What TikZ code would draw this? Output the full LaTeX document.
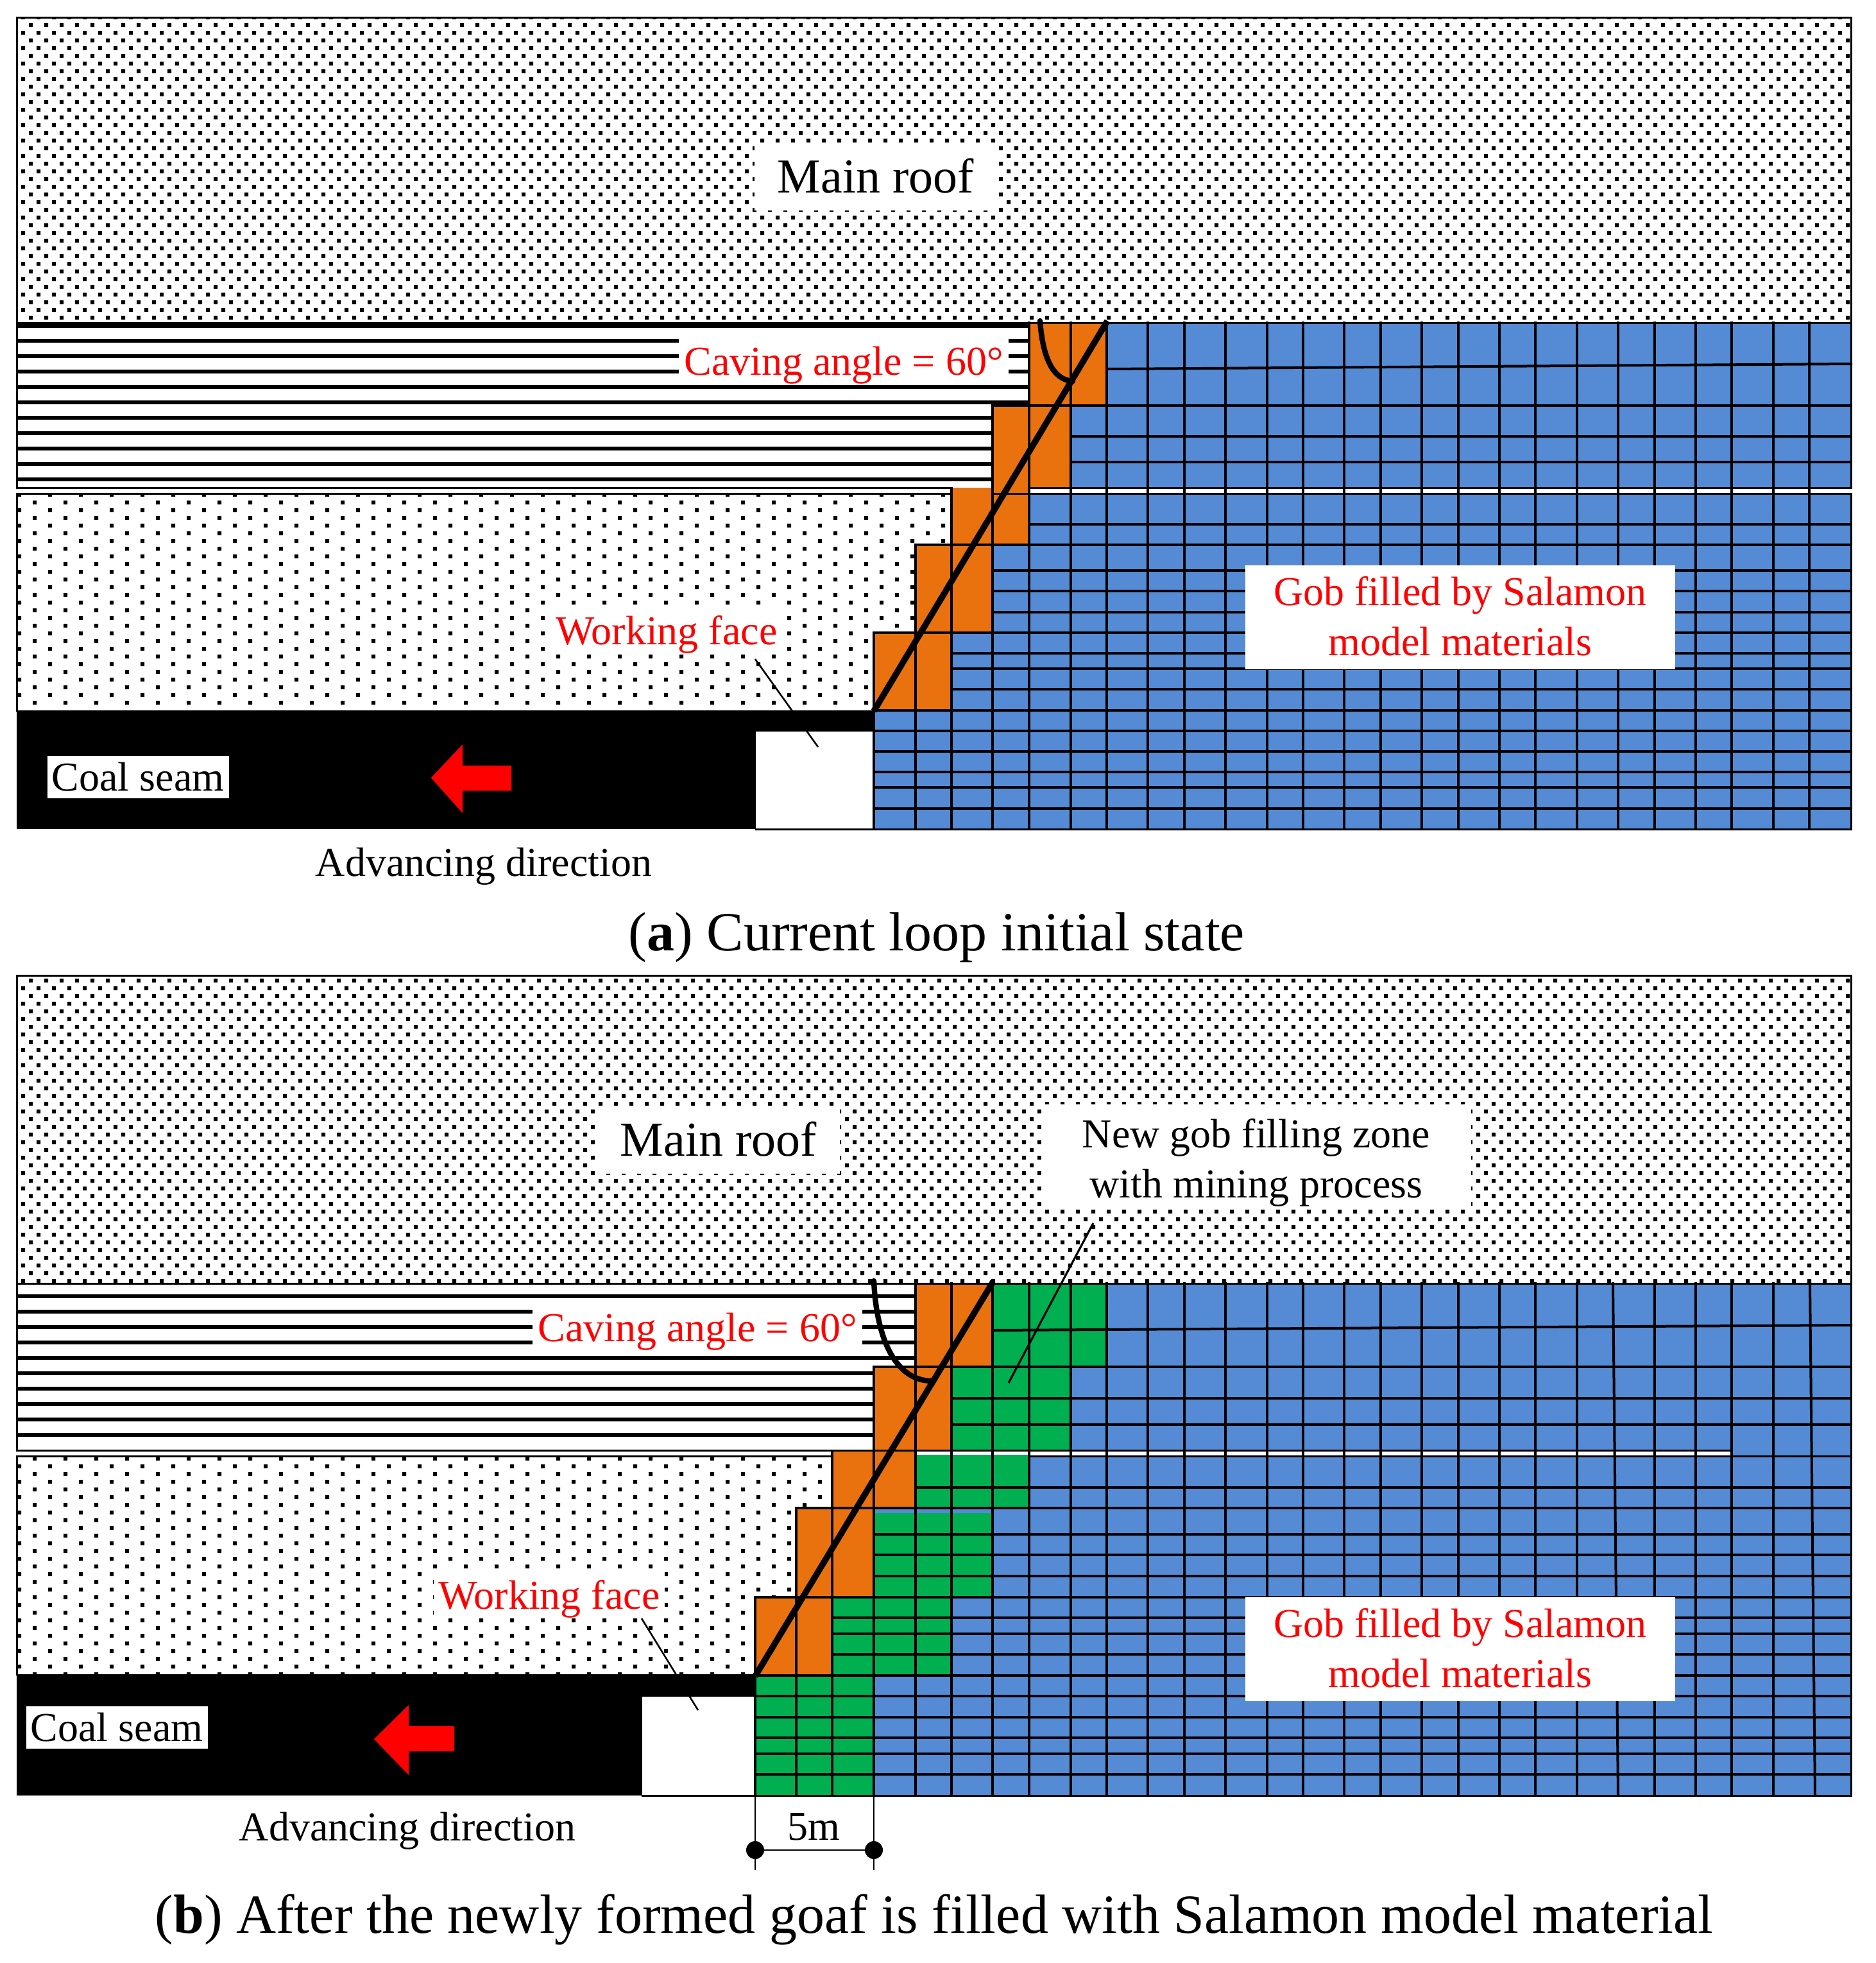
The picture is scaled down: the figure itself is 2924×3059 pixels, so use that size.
\documentclass[tikz,border=0pt]{standalone}
\usepackage{fontspec}
\setmainfont{Liberation Serif}
\definecolor{gobblue}{RGB}{85,138,212}
\definecolor{caveorange}{RGB}{234,114,14}
\definecolor{newgreen}{RGB}{0,175,80}
\newcommand{\dotfield}[5]{\fill \foreach \k in {0,...,#5}{\foreach \j in {0,...,#4}{({#1+#3*\j+#3/2*mod(\k,2)-3},{#2-12*\k-3}) rectangle +(6,6)}};}

\begin{document}
\begin{tikzpicture}[
    x=0.5pt, y=-0.5pt,
    gridline/.style={line width=2pt, line cap=rect},
    hatchline/.style={line width=3pt},
    frameline/.style={line width=1.5pt, line cap=rect},
    anglearc/.style={line width=4.2pt, line cap=round},
    caveline/.style={line width=4.8pt},
    leader/.style={line width=1.3pt},
    lab/.style={font=\fontsize{32}{39}\selectfont, inner sep=0pt, anchor=base},
    whitelab/.style={lab, fill=white, text height=29pt, text depth=7.5pt, inner xsep=4pt},
    bigbox/.style={fill=white, align=center, inner sep=0pt, font=\fontsize{32}{39}\selectfont, minimum width=335pt, minimum height=81pt},
    roofbox/.style={fill=white, inner ysep=0pt, inner xsep=18pt, anchor=base, font=\fontsize{38}{45}\selectfont, text height=38pt, text depth=14pt},
    coalbox/.style={fill=white, inner sep=0pt, font=\fontsize{32}{39}\selectfont, minimum width=141.5pt, minimum height=33pt},
    captext/.style={font=\fontsize{43}{50}\selectfont, inner sep=0pt, anchor=base}
]
    \useasboundingbox (0,0) rectangle (2924,3059);

    % (a)
    \begin{scope}
        \clip (26,27) rectangle (2885,503);
        \dotfield{24}{495}{24}{119}{39}
    \end{scope}
    \begin{scope}
        \clip (26,768) -- (1483,768) -- (1483,849) -- (1427,849) -- (1427,986) -- (1362,986) -- (1362,1107) -- (26,1107) -- cycle;
        \dotfield{6}{1095}{48}{30}{27}
    \end{scope}
    \draw[hatchline, line width=4.5pt] (26,506) -- (1604,506);
    \foreach \y in {531,555,579,603,627} \draw[hatchline] (26,\y) -- (1604,\y);
    \foreach \y in {651,675,699,723,747} \draw[hatchline] (26,\y) -- (1547,\y);
    \fill (26,1107) rectangle (1362,1292);
    \fill[white] (1178,1140) rectangle (1362,1292);
    \foreach \xl/\yt/\yb in {1725/503/632, 1669/632/760, 1604/769/849, 1547/849/986, 1483/986/1107, 1362/1107/1292}
        \fill[gobblue] (\xl,\yt) rectangle (2885,\yb);
    \foreach \xl/\xr/\yt/\yb in {1604/1725/503/632, 1547/1669/632/760, 1483/1604/760/849, 1427/1547/849/986, 1362/1483/986/1107}
        \fill[caveorange] (\xl,\yt) rectangle (\xr,\yb);
    \foreach \x/\yt in {1362/986, 1427/849, 1483/761, 1547/632, 1604/503, 1669/503, 1725/503, 1789/503, 1846/503, 1910/503, 1975/503, 2031/503, 2095/503, 2152/503, 2216/503, 2273/503, 2337/503, 2393/503, 2458/503, 2522/503, 2579/503, 2643/503, 2699/503, 2764/503, 2820/503}
        \draw[gridline] (\x,\yt) -- (\x,1292);
    \foreach \y/\xl in {632/1547, 680/1669, 720/1669, 817/1604, 849/1427, 889/1547, 921/1547, 954/1547, 986/1362, 1018/1483, 1042/1483, 1074/1483, 1107/1362, 1139/1362, 1171/1362, 1203/1362, 1227/1362, 1260/1362}
        \draw[gridline] (\xl,\y) -- (2885,\y);
    \draw[gridline] (1725,575) -- (2885,567);
    \draw[frameline] (1604,760) -- (2885,760);
    \draw[frameline] (1547,769) -- (2885,769);
    \draw[frameline] (26,760) -- (1483,760);
    \draw[frameline] (26,769) -- (1483,769);
    \draw[frameline] (1178,1292) -- (2885,1292);
    \draw[frameline] (26,27) rectangle (2885,503);
    \draw[frameline] (26,503) -- (26,760);
    \draw[frameline] (26,769) -- (26,1107);
    \draw[frameline] (2885,503) -- (2885,760);
    \draw[frameline] (2885,769) -- (2885,1292);

    \node[roofbox] (roofa) at (1365,300) {Main roof};
    \node[whitelab, text=red] (cavinga) at (1315,584) {Caving angle = 60°};
    \node[whitelab, text=red] (facea) at (1039,1004) {Working face};
    \node[bigbox, text=red] (goba) at (2276,962) {Gob filled by Salamon\\model materials\rule[-2pt]{0pt}{2pt}};
    \node[coalbox] (coala) at (215,1211) {Coal seam};
    \node[lab] (advancea) at (754,1365) {Advancing direction};
    \node[captext] (capa) at (1460,1481) {(\textbf{a}) Current loop initial state};
    \fill[red] (672,1212) -- (721,1160) -- (721,1193) -- (797,1193) -- (797,1232) -- (721,1232) -- (721,1267) -- cycle;
    \coordinate (leadtopa) at (1177,1027);
    \coordinate (leadenda) at (1275,1164);
    \draw[leader] (leadtopa) -- (leadenda);
    \draw[caveline] (1362,1108) -- (1726,500);
    \draw[anglearc] (1621,500) .. controls (1625,555) and (1640,592) .. (1672,594);

    % (b)
    \begin{scope}
        \clip (26,1520) rectangle (2885,2000);
        \dotfield{12}{1996}{24}{120}{39}
    \end{scope}
    \begin{scope}
        \clip (26,2269) -- (1297,2269) -- (1297,2350) -- (1241,2350) -- (1241,2489) -- (1177,2489) -- (1177,2609) -- (26,2609) -- cycle;
        \dotfield{6}{2609}{48}{30}{28}
    \end{scope}
    \foreach \y in {2020,2044,2068,2092,2116} \draw[hatchline] (26,\y) -- (1427,\y);
    \foreach \y in {2140,2164,2188,2212,2236} \draw[hatchline] (26,\y) -- (1362,\y);
    \fill (26,2609) rectangle (1177,2798);
    \fill[white] (1001,2644) rectangle (1177,2798);
    \foreach \xl/\yt/\yb in {1725/2000/2130, 1669/2130/2261, 1604/2269/2350, 1547/2350/2489, 1483/2489/2611, 1362/2611/2798}
        \fill[gobblue] (\xl,\yt) rectangle (2885,\yb);
    \fill[gobblue] (2698,2260) rectangle (2885,2269);
    \fill[gobblue] (1362,2350) rectangle (1547,2358);
    \foreach \xl/\xr/\yt/\yb in {1547/1725/2000/2130, 1483/1669/2130/2261, 1427/1604/2267/2350, 1362/1547/2358/2489, 1297/1483/2489/2611, 1177/1362/2611/2798}
        \fill[newgreen] (\xl,\yt) rectangle (\xr,\yb);
    \foreach \xl/\xr/\yt/\yb in {1427/1547/2000/2130, 1362/1483/2130/2261, 1297/1427/2261/2350, 1241/1362/2350/2489, 1177/1297/2489/2611}
        \fill[caveorange] (\xl,\yt) rectangle (\xr,\yb);
    \foreach \x/\yt in {1177/2489, 1241/2350, 1297/2261, 1362/2130, 1427/2000, 1483/2000, 1547/2000, 1604/2000, 1669/2000, 1725/2000, 1789/2000, 1846/2000, 1910/2000, 1975/2000, 2031/2000, 2095/2000, 2152/2000, 2216/2000, 2273/2000, 2337/2000, 2393/2000, 2458/2000, 2579/2000, 2643/2000, 2699/2000, 2764/2000}
        \draw[gridline] (\x,\yt) -- (\x,2798);
    \draw[gridline] (2514,2000) -- (2522,2798);
    \draw[gridline] (2821,2000) -- (2829,2798);
    \foreach \y/\xl in {2130/1362, 2179/1483, 2220/1483, 2318/1427, 2350/1241, 2391/1362, 2423/1362, 2456/1362, 2489/1177, 2521/1297, 2546/1297, 2578/1297, 2611/1177, 2643/1177, 2676/1177, 2708/1177, 2733/1177, 2765/1177}
        \draw[gridline] (\xl,\y) -- (2885,\y);
    \draw[gridline] (1547,2073) -- (2885,2065);
    \draw[frameline] (1604,2269) -- (2885,2269);
    \draw[frameline] (1297,2260.5) -- (2698,2260.5);
    \draw[frameline] (26,2260.5) -- (1297,2260.5);
    \draw[frameline] (26,2269) -- (1297,2269);
    \draw[frameline] (1001,2798) -- (2885,2798);
    \draw[frameline] (26,1520) rectangle (2885,2000);
    \draw[frameline] (26,2000) -- (26,2260.5);
    \draw[frameline] (26,2269) -- (26,2609);
    \draw[frameline] (2885,2000) -- (2885,2798);

    \node[roofbox] (roofb) at (1120,1801) {Main roof};
    \node[whitelab, text=red] (cavingb) at (1087,2090) {Caving angle = 60°};
    \node[whitelab, text=red] (faceb) at (856,2507) {Working face};
    \node[bigbox] (newgob) at (1958,1802) {\rule{0pt}{32pt}New gob filling zone\\with mining process};
    \node[bigbox, text=red] (gobb) at (2276,2570) {Gob filled by Salamon\\model materials\rule[-2pt]{0pt}{2pt}};
    \node[coalbox] (coalb) at (182,2692) {Coal seam};
    \node[lab] (advanceb) at (635,2868) {Advancing direction};
    \node[captext] (capb) at (1456,3012) {(\textbf{b}) After the newly formed goaf is filled with Salamon model material};
    \fill[red] (583,2710) -- (637,2657) -- (637,2690) -- (708,2690) -- (708,2729) -- (637,2729) -- (637,2766) -- cycle;
    \coordinate (leadtopb) at (1000,2522);
    \coordinate (leadendb) at (1088,2665);
    \draw[leader] (leadtopb) -- (leadendb);
    \coordinate (newtop) at (1704,1906);
    \coordinate (newend) at (1572,2155);
    \draw[leader, line width=1.6pt] (newtop) -- (newend);
    \draw[caveline] (1177,2612) -- (1548,1997);
    \draw[anglearc] (1362,1996) .. controls (1366,2085) and (1395,2152) .. (1453,2152);

    \node[circle, fill, inner sep=0pt, minimum size=14pt] (dimleft) at (1177,2883) {};
    \node[circle, fill, inner sep=0pt, minimum size=14pt] (dimright) at (1362,2883) {};
    \coordinate (tickleft) at (1177,2914);
    \coordinate (tickright) at (1362,2914);
    \coordinate (baseleft) at (1177,2798);
    \coordinate (baseright) at (1362,2798);
    \draw[leader] (baseleft) -- (tickleft);
    \draw[leader] (baseright) -- (tickright);
    \draw[leader] (dimleft) -- (dimright);
    \node[lab] (dimtext) at (1268,2867) {5m};
\end{tikzpicture}
\end{document}
